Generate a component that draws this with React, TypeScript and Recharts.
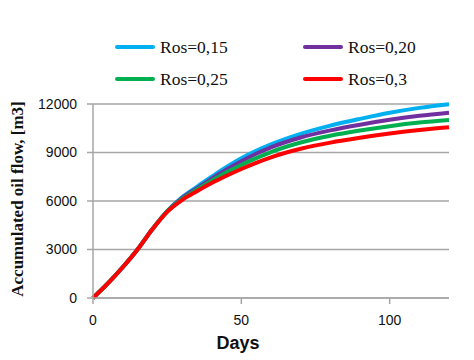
import React from 'react';
import { LineChart, Line, XAxis, YAxis, CartesianGrid, Label } from 'recharts';

// days on the x axis
const days = [0, 5, 10, 15, 20, 25, 30, 35, 40, 45, 50, 55, 60, 70, 80, 90, 100, 110, 120];

// accumulated oil flow [m3] for each Ros value
const ros015 = [0, 900, 1900, 3000, 4250, 5370, 6230, 6880, 7500, 8100, 8640, 9100, 9500, 10150, 10660, 11080, 11460, 11760, 11990];
const ros020 = [0, 900, 1900, 3000, 4250, 5360, 6180, 6780, 7380, 7950, 8460, 8920, 9320, 9930, 10370, 10720, 11020, 11270, 11460];
const ros025 = [0, 900, 1900, 3000, 4250, 5350, 6120, 6700, 7250, 7770, 8230, 8650, 9030, 9620, 10040, 10360, 10630, 10850, 11010];
const ros030 = [0, 900, 1900, 3000, 4250, 5330, 6060, 6600, 7110, 7560, 7980, 8360, 8700, 9230, 9610, 9910, 10170, 10390, 10560];

const yTicks = [0, 3000, 6000, 9000, 12000];
const xTicks = [0, 50, 100];

const series = [
  { key: 'r015', name: 'Ros=0,15', color: '#00B0F0', values: ros015 },
  { key: 'r020', name: 'Ros=0,20', color: '#7030A0', values: ros020 },
  { key: 'r025', name: 'Ros=0,25', color: '#00B050', values: ros025 },
  { key: 'r030', name: 'Ros=0,3', color: '#FF0000', values: ros030 },
];

const data = days.map((d, i) => {
  const row: Record<string, number> = { day: d };
  series.forEach(s => { row[s.key] = s.values[i]; });
  return row;
});

const serif = '"Liberation Serif", "Times New Roman", serif';
const sans = '"Liberation Sans", Arial, sans-serif';
const grey = '#a6a6a6';

// legend is laid out in 2 rows x 2 columns like the original
const legendPos = [
  { left: 115, top: 47 },
  { left: 303, top: 47 },
  { left: 115, top: 79 },
  { left: 303, top: 79 },
];

function YTitle(props: any) {
  const cy = props.viewBox.y + props.viewBox.height / 2 - 2;
  const cx = 17;
  return (
    <text
      x={cx}
      y={cy}
      transform={`rotate(-90, ${cx}, ${cy})`}
      textAnchor="middle"
      dominantBaseline="central"
      style={{ fontFamily: serif, fontWeight: 'bold', fontSize: 17, fill: '#111' }}
    >
      Accumulated oil flow, [m3]
    </text>
  );
}

function XTitle(props: any) {
  return (
    <text
      x={238}
      y={props.viewBox.y + 45}
      textAnchor="middle"
      dominantBaseline="central"
      style={{ fontFamily: sans, fontWeight: 'bold', fontSize: 18, fill: '#111' }}
    >
      Days
    </text>
  );
}

export default function App() {
  return (
    <div style={{ position: 'absolute', left: 0, top: 0, width: 474, height: 360, background: '#fff' }}>
      <LineChart
        width={474}
        height={360}
        data={data}
        margin={{ top: 104, right: 25, bottom: 12, left: 0 }}
      >
        <CartesianGrid vertical={false} stroke={grey} strokeWidth={1.5} />
        <XAxis
          dataKey="day"
          type="number"
          domain={[0, 120]}
          ticks={xTicks}
          height={50}
          axisLine={{ stroke: grey, strokeWidth: 1.5 }}
          tickLine={{ stroke: grey, strokeWidth: 1.5 }}
          tickSize={6}
          tickMargin={11}
          tick={{ fontFamily: sans, fontSize: 14, fill: '#111' }}
        >
          <Label content={XTitle} />
        </XAxis>
        <YAxis
          type="number"
          domain={[0, 12000]}
          ticks={yTicks}
          width={93}
          axisLine={{ stroke: grey, strokeWidth: 1.5 }}
          tickLine={{ stroke: grey, strokeWidth: 1.5 }}
          tickSize={6}
          tickMargin={10}
          tick={{ fontFamily: sans, fontSize: 14, fill: '#111' }}
        >
          <Label content={YTitle} />
        </YAxis>
        {series.map(s => (
          <Line
            key={s.key}
            dataKey={s.key}
            name={s.name}
            type="monotone"
            stroke={s.color}
            strokeWidth={4}
            dot={false}
            isAnimationActive={false}
          />
        ))}
      </LineChart>
      {series.map((s, i) => (
        <div
          key={s.key}
          style={{
            position: 'absolute',
            left: legendPos[i].left,
            top: legendPos[i].top - 12,
            height: 24,
            display: 'flex',
            alignItems: 'center',
            fontFamily: serif,
            fontSize: 17.5,
            color: '#111',
            whiteSpace: 'nowrap',
          }}
        >
          <span style={{ display: 'inline-block', width: 40, height: 4, borderRadius: 2, background: s.color, marginRight: 5 }} />
          {s.name}
        </div>
      ))}
    </div>
  );
}
